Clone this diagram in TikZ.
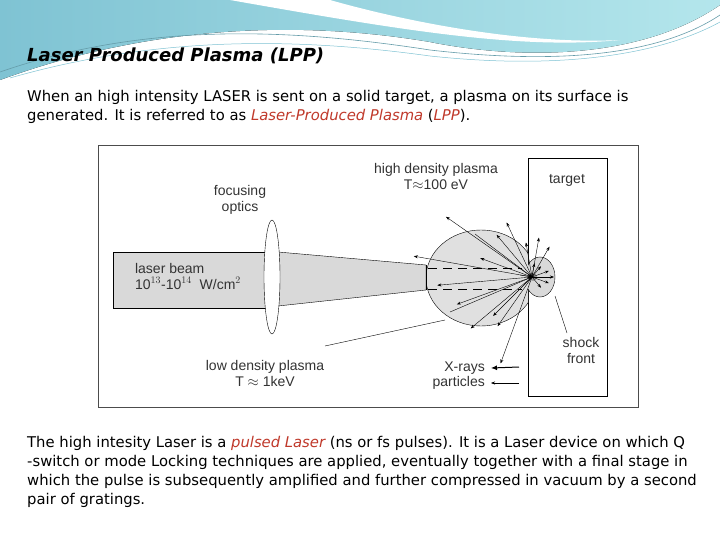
\documentclass[tikz,border=0pt]{standalone}
\usepackage{fontspec}
\setmainfont{DejaVu Sans}
\newfontfamily\diag{Liberation Sans}
\usetikzlibrary{arrows.meta}
\definecolor{tealA}{HTML}{7FC3D3}
\definecolor{tealB}{HTML}{B4E6EC}
\definecolor{redt}{HTML}{C0392B}
\tikzset{
 body/.style={anchor=west,inner sep=0pt,font=\fontsize{14.8}{16}\selectfont},
 lab/.style={inner sep=0pt,font=\diag\fontsize{14}{16}\selectfont,text=black!80,align=center},
 ray/.style={-{Stealth[length=4pt,width=3pt]},line width=0.4pt},
 pt/.style={line width=0.4pt}
}
\begin{document}
\begin{tikzpicture}[x=1pt,y=-1pt]
\useasboundingbox (0,0) rectangle (720,540);
\fill[white] (0,0) rectangle (720,540);
% header waves
\fill[left color=tealA,right color=tealB] (0,0) -- (720,0) -- (720,5) .. controls (640,60) and (520,60) .. (430,42) .. controls (300,20) and (150,25) .. (0,80) -- cycle;
\fill[white] (230,0) -- (330,0) .. controls (400,20) and (520,45) .. (620,40) .. controls (520,50) and (400,30) .. (230,0) -- cycle;
\draw[tealA!80!black,line width=0.6pt] (0,72) .. controls (150,20) and (300,30) .. (430,50) .. controls (560,65) and (660,55) .. (720,15);
\draw[tealA,line width=0.5pt] (10,78) .. controls (160,35) and (300,38) .. (430,56) .. controls (560,70) and (660,55) .. (720,22);
\node[anchor=west,inner sep=0pt,font=\bfseries\itshape\fontsize{18}{21}\selectfont] (title) at (27,56) {Laser Produced Plasma (LPP)};
\node[body] (b1) at (27,97) {When an high intensity LASER is sent on a solid target, a plasma on its surface is};
\node[body] (b2) at (27,116) {generated. It is referred to as \textcolor{redt}{\itshape Laser-Produced Plasma} (\textcolor{redt}{\itshape LPP}).};
\node[body] (c1) at (27,443) {The high intesity Laser is a \textcolor{redt}{\itshape pulsed Laser} (ns or fs pulses). It is a Laser device on which Q};
\node[body] (c2) at (27,462) {-switch or mode Locking techniques are applied, eventually together with a final stage in};
\node[body] (c3) at (27,481) {which the pulse is subsequently amplified and further compressed in vacuum by a second};
\node[body] (c4) at (27,500) {pair of gratings.};
% diagram
\draw[black!70,line width=0.8pt] (98,145) rectangle (638,407);
\draw[line width=0.5pt] (528,158) rectangle (607,396);
\begin{scope}
\clip (98,145) rectangle (528,407);
\fill[black!12] (481,278) ellipse (55 and 48);
\draw[pt] (481,278) ellipse (55 and 48);
\end{scope}
\fill[black!15] (113,252) rectangle (268,308);
\draw[pt] (268,252) -- (113,252) -- (113,308) -- (268,308);
\fill[black!15] (278,252) -- (426,265) -- (426,290) -- (278,306) -- cycle;
\draw[pt] (278,252) -- (426,265) -- (426,290) -- (278,306);
\draw[pt,fill=white] (272,277) ellipse (8 and 57);
\draw[pt] (426,265) -- (426,290);
\draw[pt,dash pattern=on 9pt off 6pt] (428,268) -- (522,268);
\draw[pt,dash pattern=on 9pt off 6pt] (428,289) -- (522,289);
\begin{scope}
\clip (528,250) rectangle (570,310);
\fill[black!15] (540,277) ellipse (15 and 20);
\draw[pt] (540,277) ellipse (15 and 20);
\end{scope}
\fill[black!40] (533,277) circle (4);
\coordinate (f) at (532,277);
\foreach \a/\l in {110/92,125/60,140/80,160/80,175/95,190/120,200/55,215/105,230/55,245/60,260/35,280/40,300/35,135/55,20/18,-20/18,0/22,-50/14,50/14,-80/14}{
  \draw[ray] (f) -- ++(\a:\l);
}
\draw[ray] (475,234) -- (f);
\draw[ray] (450,312) -- (f);
\draw[ray] (520,275) -- (f);
\node[lab] (hd) at (436,176) {high density plasma\\T$\approx$100 eV};
\node[lab] (fo) at (240,200) {focusing\\optics};
\node[lab,align=left] (lb) at (188,276) {laser beam\\10$^{13}$-10$^{14}$\ \ W/cm$^2$};
\node[lab] (ld) at (265,373) {low density plasma\\T $\approx$ 1keV};
\node[lab] (tg) at (567,180) {target};
\node[lab] (sf) at (581,350) {shock\\front};
\node[lab,anchor=east] (xr) at (485,368) {X-rays};
\node[lab,anchor=east] (pa) at (485,383) {particles};
\coordinate (xs) at (519,367);
\coordinate (ps) at (519,383);
\draw[-{Latex[length=6pt,width=5pt]},line width=1pt] (xs) -- ([xshift=6pt]xr.east);
\draw[-{Stealth[length=4pt,width=3pt]},pt] (ps) -- ([xshift=6pt]pa.east);
\draw[pt] (325,346) -- (445,320);
\draw[pt] (567,333) -- (555,296);
\end{tikzpicture}
\end{document}
